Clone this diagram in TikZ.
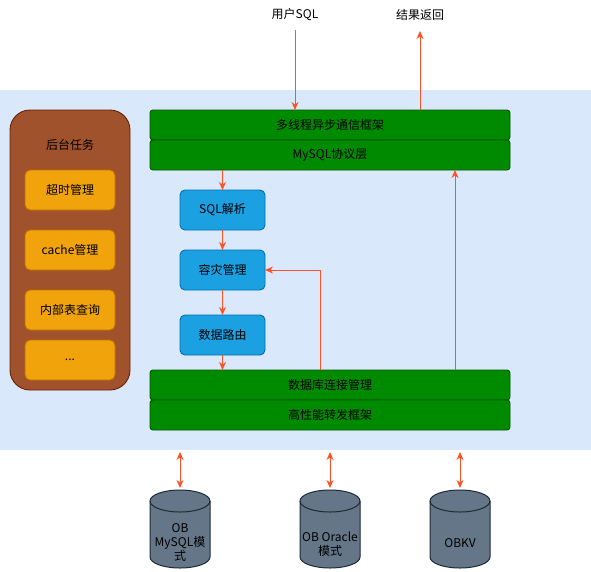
\documentclass[tikz,border=0pt]{standalone}
\usepackage{fontspec}
\setmainfont{Noto Sans CJK SC}
\usetikzlibrary{arrows.meta,calc}
\definecolor{bgblue}{HTML}{DAE8FC}
\definecolor{gfill}{HTML}{008A00}
\definecolor{gline}{HTML}{005700}
\definecolor{bfill}{HTML}{1BA1E2}
\definecolor{bline}{HTML}{006EAF}
\definecolor{ofill}{HTML}{F0A30A}
\definecolor{oline}{HTML}{BD7000}
\definecolor{brfill}{HTML}{A0522D}
\definecolor{brline}{HTML}{6D1F00}
\definecolor{cfill}{HTML}{647687}
\definecolor{cline}{HTML}{1E2A36}
\definecolor{arrc}{HTML}{FF5224}
\tikzset{
  every node/.style={font=\fontsize{12}{14}\selectfont, inner sep=0pt, outer sep=0pt},
  greenbar/.style={fill=gfill, draw=gline, line width=0.9pt, rounded corners=3pt, minimum width=360pt, minimum height=30pt},
  bluebox/.style={fill=bfill, draw=bline, line width=0.9pt, rounded corners=5pt, minimum width=85pt, minimum height=40pt},
  orangebox/.style={fill=ofill, draw=oline, line width=0.9pt, rounded corners=5pt, minimum width=90pt, minimum height=40pt},
  brownbox/.style={fill=brfill, draw=brline, line width=0.9pt, rounded corners=20pt, minimum width=120pt, minimum height=280pt},
  arr/.style={draw=arrc, line width=1pt, -{Stealth[length=8pt,width=7pt]}},
  darr/.style={draw=arrc, line width=1pt, {Stealth[length=8pt,width=7pt]}-{Stealth[length=8pt,width=7pt]}},
  cylbody/.style={fill=cfill, draw=cline, line width=1pt},
  cyltext/.style={align=center}
}
\begin{document}
\begin{tikzpicture}[x=1pt,y=-1pt]
\useasboundingbox (0,0) rectangle (591,571);
% background
\node[fill=bgblue, minimum width=591pt, minimum height=360pt] (bg) at (295.5,270) {};
% top labels
\node (u) at (295,15) {用户SQL};
\node (r) at (420,15) {结果返回};
% background tasks
\node[brownbox] (tasks) at (70,250) {};
\node (taskstitle) at (70,145) {后台任务};
\node[orangebox] (o1) at (70,190) {超时管理};
\node[orangebox] (o2) at (70,250) {cache管理};
\node[orangebox] (o3) at (70,310) {内部表查询};
\node[orangebox] (o4) at (70,360) {...};
% green bars
\node[greenbar] (g1) at (330,125) {多线程异步通信框架};
\node[greenbar] (g2) at (330,155) {MySQL协议层};
\node[greenbar] (g3) at (330,385) {数据库连接管理};
\node[greenbar] (g4) at (330,415) {高性能转发框架};
% blue boxes
\node[bluebox] (b1) at (222.5,210) {SQL解析};
\node[bluebox] (b2) at (222.5,270) {容灾管理};
\node[bluebox] (b3) at (222.5,335) {数据路由};
% cylinders
\foreach \cx/\nm in {180/db1,330/db2,460/db3}{
  \path[cylbody] (\cx-30,501) -- (\cx-30,557) arc[start angle=180,end angle=0,x radius=30,y radius=11]
     -- (\cx+30,501) arc[start angle=0,end angle=-180,x radius=30,y radius=11] -- cycle;
  \draw[cline, line width=1pt] (\cx-30,501) arc[start angle=180,end angle=0,x radius=30,y radius=11];
  \node[minimum width=60pt, minimum height=78pt] (\nm) at (\cx,529) {};
}
\node[cyltext] (t1) at (180,543) {OB\\MySQL模\\式};
\node[cyltext] (t2) at (330,544) {OB Oracle\\模式};
\node[cyltext] (t3) at (460,543) {OBKV};
% connectors
\coordinate (us) at (295,30);
\coordinate (rs) at (420,31);
\draw[arr] (us) -- (us |- g1.north);
\draw[arr] (rs |- g1.north) -- (rs);
\draw[arr] (g2.south -| b1) -- (b1.north);
\draw[arr] (b1.south) -- (b2.north);
\draw[arr] (b2.south) -- (b3.north);
\draw[arr] (b3.south) -- (b3.south |- g3.north);
\coordinate (k1) at (320,370);
\coordinate (k2) at (455,370);
\draw[arr] (k1) |- (b2.east);
\draw[arr] (k2) -- (k2 |- g2.south);
\draw[darr] ([yshift=-2pt]db1.north |- bg.south) -- ([yshift=2pt]db1.north);
\draw[darr] ([yshift=-2pt]db2.north |- bg.south) -- ([yshift=2pt]db2.north);
\draw[darr] ([yshift=-2pt]db3.north |- bg.south) -- ([yshift=2pt]db3.north);
\end{tikzpicture}
\end{document}
